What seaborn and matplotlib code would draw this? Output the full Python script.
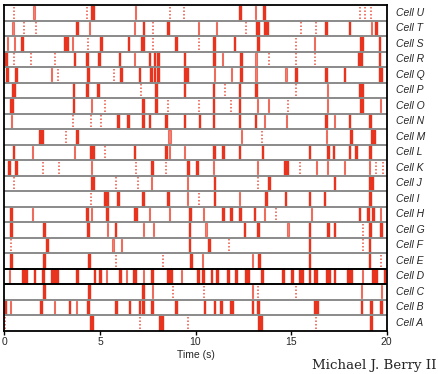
import matplotlib
matplotlib.use('Agg')
import matplotlib.pyplot as plt
import matplotlib.transforms as mtransforms
import seaborn as sns

# burst events per cell: (time s, burst duration s, fraction of trials firing)
cell_A = [(0.05, 0.05, 0.3), (4.54, 0.16, 1), (7.07, 0.05, 0.3), (8.2, 0.18, 1), (9.6, 0.05, 0.3),
          (13.36, 0.22, 1), (16.32, 0.05, 0.3), (19.2, 0.1, 1)]
cell_B = [(0.03, 0.08, 1), (0.3, 0.06, 0.6), (1.92, 0.08, 1), (2.62, 0.06, 0.6), (3.4, 0.08, 1),
          (3.79, 0.06, 0.6), (4.36, 0.08, 1), (5.85, 0.08, 1), (6.54, 0.08, 1), (7.07, 0.08, 1),
          (7.24, 0.08, 1), (7.73, 0.08, 1), (8.99, 0.08, 1), (10.47, 0.08, 1), (10.99, 0.08, 1),
          (11.34, 0.08, 1), (11.9, 0.16, 1), (12.99, 0.08, 1), (13.26, 0.08, 1), (16.32, 0.18, 1),
          (18.68, 0.08, 1), (19.2, 0.08, 1), (19.72, 0.08, 1)]
cell_C = [(2.09, 0.1, 1), (4.42, 0.08, 1), (7.24, 0.08, 1), (7.73, 0.06, 0.6), (8.81, 0.05, 0.3),
          (10.47, 0.05, 0.3), (12.99, 0.06, 0.6), (13.26, 0.05, 0.3), (15.27, 0.05, 0.3),
          (18.68, 0.06, 0.6), (19.72, 0.06, 0.6)]
cell_D = [(0.26, 0.06, 0.6), (1.05, 0.24, 1), (1.57, 0.1, 1), (2.01, 0.08, 1), (2.62, 0.4, 1),
          (3.79, 0.12, 1), (4.71, 0.08, 1), (5.01, 0.08, 1), (5.36, 0.06, 0.6), (6.06, 0.08, 1),
          (6.37, 0.06, 0.6), (6.81, 0.16, 1), (7.28, 0.06, 0.6), (7.73, 0.08, 1), (8.64, 0.22, 1),
          (9.25, 0.06, 0.6), (10.12, 0.08, 1), (10.38, 0.08, 1), (10.85, 0.08, 1), (11.12, 0.08, 1),
          (11.69, 0.08, 1), (12.13, 0.08, 1), (12.7, 0.24, 1), (13.49, 0.08, 1), (14.57, 0.1, 1),
          (15.06, 0.08, 1), (15.53, 0.22, 1), (15.97, 0.08, 1), (16.28, 0.2, 1), (16.93, 0.22, 1),
          (17.28, 0.08, 1), (18.06, 0.22, 1), (18.76, 0.06, 0.6), (19.38, 0.26, 1), (19.9, 0.08, 1)]
cell_E = [(0.35, 0.08, 1), (2.09, 0.1, 1), (4.42, 0.08, 1), (5.85, 0.05, 0.3), (8.29, 0.05, 0.3),
          (9.77, 0.08, 1), (10.38, 0.06, 0.6), (12.99, 0.06, 0.6), (13.32, 0.1, 1), (15.97, 0.08, 1),
          (19.12, 0.08, 1), (19.72, 0.05, 0.3)]
cell_F = [(0.35, 0.05, 0.3), (2.23, 0.08, 1), (5.67, 0.12, 0.6), (6.11, 0.06, 0.6), (9.69, 0.08, 1),
          (10.7, 0.08, 1), (11.78, 0.05, 0.3), (15.97, 0.08, 1), (18.76, 0.05, 0.3), (19.12, 0.08, 1)]
cell_G = [(0.35, 0.08, 1), (2.07, 0.1, 1), (4.36, 0.08, 1), (5.41, 0.06, 0.6), (5.81, 0.08, 1),
          (7.28, 0.06, 0.6), (7.8, 0.06, 0.6), (9.69, 0.08, 1), (10.54, 0.08, 0.6), (12.57, 0.08, 1),
          (13.26, 0.08, 1), (14.84, 0.06, 0.6), (15.97, 0.08, 1), (16.93, 0.08, 1), (17.28, 0.08, 1),
          (18.76, 0.05, 0.3), (19.12, 0.1, 1), (19.72, 0.08, 1)]
cell_H = [(0.35, 0.08, 1), (1.48, 0.06, 0.6), (4.31, 0.08, 1), (4.54, 0.06, 0.6), (5.36, 0.08, 1),
          (6.86, 0.16, 1), (7.59, 0.06, 0.6), (8.64, 0.06, 0.6), (9.72, 0.08, 1), (10.42, 0.06, 0.6),
          (11.43, 0.08, 1), (11.87, 0.08, 1), (12.34, 0.08, 1), (13.09, 0.08, 1), (13.61, 0.06, 0.6),
          (14.22, 0.05, 0.3), (16.06, 0.06, 0.6), (18.59, 0.08, 1), (19.03, 0.08, 1), (19.3, 0.08, 1),
          (19.7, 0.06, 0.6)]
cell_I = [(4.54, 0.05, 0.3), (5.32, 0.2, 1), (5.93, 0.08, 1), (7.24, 0.08, 1), (8.55, 0.08, 1),
          (9.6, 0.06, 0.6), (10.2, 0.05, 0.3), (11.0, 0.08, 1), (12.3, 0.06, 0.6), (13.7, 0.08, 1),
          (14.71, 0.08, 1), (15.97, 0.08, 1), (16.75, 0.08, 1), (19.12, 0.1, 1)]
cell_J = [(0.52, 0.05, 0.3), (4.62, 0.18, 1), (5.85, 0.05, 0.3), (6.98, 0.05, 0.3), (7.68, 0.06, 0.6),
          (9.6, 0.06, 0.6), (11.0, 0.08, 1), (13.26, 0.05, 0.3), (13.87, 0.1, 1), (17.28, 0.08, 1),
          (19.2, 0.2, 1)]
cell_K = [(0.23, 0.08, 1), (0.61, 0.1, 1), (2.01, 0.05, 0.3), (2.84, 0.05, 0.3), (4.54, 0.06, 0.6),
          (6.89, 0.05, 0.3), (7.72, 0.14, 1), (8.46, 0.05, 0.3), (9.6, 0.08, 1), (10.07, 0.08, 1),
          (10.95, 0.06, 0.6), (13.26, 0.06, 0.6), (14.75, 0.2, 1), (15.45, 0.05, 0.3),
          (16.32, 0.06, 0.6), (16.93, 0.06, 0.6), (17.8, 0.06, 0.6), (19.12, 0.06, 0.6),
          (19.46, 0.05, 0.3), (19.8, 0.05, 0.3)]
cell_L = [(0.47, 0.08, 1), (1.48, 0.06, 0.6), (3.66, 0.06, 0.6), (4.59, 0.18, 1), (5.24, 0.05, 0.3),
          (6.81, 0.08, 1), (8.46, 0.08, 1), (8.64, 0.06, 0.6), (9.42, 0.06, 0.6), (10.98, 0.08, 1),
          (11.43, 0.08, 1), (12.3, 0.08, 1), (13.5, 0.08, 1), (15.97, 0.08, 1), (16.93, 0.08, 1),
          (17.23, 0.08, 1), (18.06, 0.08, 1), (18.41, 0.08, 1), (19.12, 0.1, 1)]
cell_M = [(1.92, 0.18, 1), (3.23, 0.05, 0.3), (3.79, 0.08, 1), (8.64, 0.2, 0.6), (12.39, 0.06, 0.6),
          (13.5, 0.05, 0.3), (16.84, 0.06, 0.6), (18.15, 0.08, 1), (19.3, 0.18, 1)]
cell_N = [(0.35, 0.06, 0.6), (3.61, 0.05, 0.3), (4.54, 0.05, 0.3), (5.06, 0.05, 0.3), (5.93, 0.08, 1),
          (6.46, 0.08, 1), (7.24, 0.08, 1), (7.59, 0.08, 1), (8.46, 0.08, 1), (9.42, 0.08, 1),
          (10.22, 0.08, 1), (10.95, 0.08, 1), (12.3, 0.08, 1), (13.14, 0.08, 1), (13.61, 0.06, 0.6),
          (14.75, 0.06, 0.6), (16.84, 0.08, 1), (17.28, 0.06, 0.6), (18.06, 0.08, 1), (19.12, 0.12, 1)]
cell_O = [(0.35, 0.14, 1), (3.61, 0.08, 1), (4.54, 0.06, 0.6), (5.24, 0.05, 0.3), (7.24, 0.08, 1),
          (7.94, 0.08, 1), (8.55, 0.05, 0.3), (10.2, 0.05, 0.3), (10.95, 0.08, 1), (11.87, 0.05, 0.3),
          (12.3, 0.08, 1), (13.26, 0.06, 0.6), (13.8, 0.06, 0.6), (14.84, 0.05, 0.3), (16.93, 0.06, 0.6),
          (18.68, 0.16, 1), (19.7, 0.06, 0.6)]
cell_P = [(0.47, 0.14, 1), (3.61, 0.08, 1), (4.31, 0.08, 1), (4.89, 0.08, 1), (7.16, 0.05, 0.3),
          (7.94, 0.08, 1), (9.42, 0.08, 1), (10.95, 0.08, 1), (11.52, 0.05, 0.3), (12.3, 0.08, 1),
          (13.17, 0.08, 1), (15.27, 0.05, 0.3), (16.93, 0.06, 0.6), (18.68, 0.2, 1)]
cell_Q = [(0.12, 0.08, 1), (0.61, 0.1, 1), (2.44, 0.06, 0.6), (2.79, 0.05, 0.3), (4.36, 0.08, 1),
          (5.71, 0.05, 0.3), (6.11, 0.08, 1), (7.07, 0.08, 1), (7.68, 0.08, 1), (7.85, 0.08, 1),
          (8.03, 0.08, 1), (9.5, 0.2, 1), (11.0, 0.06, 0.6), (11.87, 0.06, 0.6), (12.39, 0.08, 1),
          (13.17, 0.06, 0.6), (14.75, 0.1, 0.6), (15.27, 0.08, 1), (16.84, 0.08, 1), (17.8, 0.08, 1),
          (19.7, 0.18, 1)]
cell_R = [(0.09, 0.08, 1), (0.52, 0.05, 0.3), (1.4, 0.05, 0.3), (2.62, 0.05, 0.3), (3.66, 0.08, 1),
          (4.31, 0.08, 1), (4.94, 0.08, 1), (6.02, 0.08, 1), (6.81, 0.06, 0.6), (7.59, 0.08, 1),
          (7.85, 0.08, 1), (8.03, 0.08, 1), (9.42, 0.08, 1), (10.98, 0.08, 1), (11.43, 0.06, 0.6),
          (12.39, 0.08, 1), (13.17, 0.06, 0.6), (13.87, 0.05, 0.3), (15.27, 0.05, 0.3),
          (16.24, 0.05, 0.3), (18.63, 0.22, 1), (19.63, 0.08, 1)]
cell_S = [(0.17, 0.06, 0.6), (0.52, 0.06, 0.6), (0.92, 0.1, 1), (3.23, 0.18, 1), (3.58, 0.06, 0.6),
          (4.36, 0.05, 0.3), (5.06, 0.08, 1), (6.5, 0.08, 1), (7.24, 0.16, 1), (7.77, 0.05, 0.3),
          (8.99, 0.08, 1), (10.2, 0.05, 0.3), (10.95, 0.1, 1), (12.04, 0.08, 1), (13.26, 0.1, 1),
          (15.27, 0.05, 0.3), (16.24, 0.06, 0.6), (18.68, 0.14, 1), (19.63, 0.08, 1)]
cell_T = [(0.45, 0.12, 0.6), (1.0, 0.05, 0.3), (1.66, 0.05, 0.3), (3.79, 0.08, 1), (4.45, 0.06, 0.6),
          (6.8, 0.06, 0.6), (7.28, 0.08, 1), (7.77, 0.05, 0.3), (8.55, 0.1, 1), (10.17, 0.06, 0.6),
          (11.1, 0.06, 0.6), (12.65, 0.05, 0.3), (13.26, 0.18, 1), (13.7, 0.18, 1), (15.53, 0.05, 0.3),
          (16.3, 0.05, 0.3), (16.84, 0.08, 1), (18.06, 0.08, 1), (19.2, 0.06, 0.6), (19.44, 0.08, 1)]
cell_U = [(0.52, 0.05, 0.3), (1.54, 0.08, 0.6), (4.31, 0.05, 0.3), (4.59, 0.16, 1), (6.86, 0.06, 0.6),
          (8.64, 0.05, 0.3), (9.42, 0.05, 0.3), (12.34, 0.08, 1), (13.14, 0.06, 0.6), (13.58, 0.1, 1),
          (18.59, 0.05, 0.3), (18.88, 0.05, 0.3), (19.2, 0.05, 0.3)]

cell_names = list("ABCDEFGHIJKLMNOPQRSTU")
cell_events = [cell_A, cell_B, cell_C, cell_D, cell_E, cell_F, cell_G, cell_H, cell_I, cell_J, cell_K,
               cell_L, cell_M, cell_N, cell_O, cell_P, cell_Q, cell_R, cell_S, cell_T, cell_U]
time_ticks = [0, 5, 10, 15, 20]

red = '#e8341f'

sns.set_style('ticks')
plt.rcParams['font.family'] = ['Liberation Sans', 'DejaVu Sans']

fig = plt.figure(figsize=(4.39, 3.74), dpi=100)
ax = fig.add_axes([4.5 / 439, 1 - 330.5 / 374, 382 / 439, 325.5 / 374])

for i, events in enumerate(cell_events):
    dense = [(t - d / 2, d) for t, d, p in events if p >= 0.8]
    medium = [(t - d / 2, d) for t, d, p in events if 0.45 <= p < 0.8]
    sparse = [t for t, d, p in events if p < 0.45]
    ax.broken_barh(dense, (i + 0.06, 0.88), facecolor=red, edgecolor=red, linewidth=1.0)
    ax.broken_barh(medium, (i + 0.08, 0.84), facecolor=red, edgecolor=red, linewidth=0.8,
                   alpha=0.6)
    ax.vlines(sparse, i + 0.1, i + 0.9, colors=red, linestyles=(0, (1, 1.3)), lw=1.1, alpha=0.85)

# trial-block separators, cell D boxed in black
ax.hlines([y for y in range(1, 21) if y not in (3, 4)], 0, 20, colors='#8a8a8a', lw=1.4, zorder=3)
ax.hlines([3, 4], 0, 20, colors='black', lw=1.4, zorder=3)

ax.set_xlim(0, 20)
ax.set_ylim(0, 21)
ax.set_yticks([])
ax.set_xticks(time_ticks)
ax.tick_params(axis='x', length=3, width=1, labelsize=7.5, pad=2, color='black')
for s in ax.spines.values():
    s.set_color('black')
    s.set_linewidth(1.3)
    s.set_zorder(4)
ax.set_xlabel('Time (s)', fontsize=7.5, labelpad=2)

trans = mtransforms.blended_transform_factory(ax.transAxes, ax.transData)
for i, name in enumerate(cell_names):
    ax.text(1.026, i + 0.5, 'Cell ' + name, transform=trans, fontsize=7.5,
            style='italic', va='center', ha='left')

fig.text(437 / 439, 1 - 366 / 374, 'Michael J. Berry II', ha='right', va='center',
         family='DejaVu Serif', fontsize=9.6)

fig.savefig('out.png', dpi=100)
